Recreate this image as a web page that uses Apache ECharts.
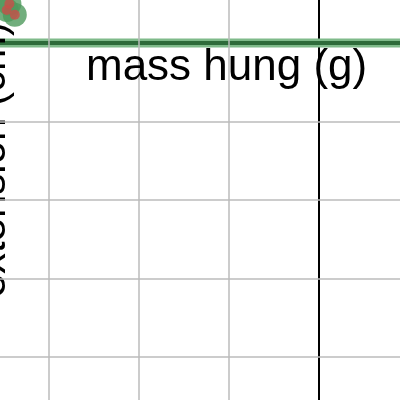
<!DOCTYPE html>
<html><head><meta charset="utf-8">
<script src="https://cdn.jsdelivr.net/npm/echarts@6/dist/echarts.min.js"></script>
<style>html,body{margin:0;padding:0;background:#fff}#c{width:400px;height:400px}</style>
</head><body><div id="c"></div>
<script>
var lineX = [-3.6, 1];
var lineY = [0, 0];
var pointsX = [-3.47, -3.38, -3.44];
var pointsY = [0.42, 0.36, 0.5];
var gridXs = [-3, -2, -1];
var gridYs = [-4, -3, -2, -1];
var xName = "mass hung (g)";
var yName = "extension (cm)";
var chart = echarts.init(document.getElementById('c'));
var lineData = lineX.map(function(x,i){return [x, lineY[i]];});
var ptData = pointsX.map(function(x,i){return [x, pointsY[i]];});
var gl = {color:'#bbbbbb', width:1.5, type:'solid'};
var ml = gridXs.map(function(v){return {xAxis:v};}).concat(gridYs.map(function(v){return {yAxis:v};}));
chart.setOption({
  animation:false,
  grid:{left:0, right:0, top:0, bottom:0, containLabel:false},
  xAxis:{type:'value', min:-319/90, max:81/90,
    axisLine:{show:false}, axisTick:{show:false}, axisLabel:{show:false}, splitLine:{show:false}},
  yAxis:{type:'value', min:(43-400)/78.5, max:43/78.5,
    axisLine:{show:false}, axisTick:{show:false}, axisLabel:{show:false}, splitLine:{show:false}},
  series:[
    {type:'line', data:[], markLine:{silent:true, symbol:'none', label:{show:false}, lineStyle:gl, data:ml}},
    {type:'line', data:[[0,-5],[0,1]], symbol:'none', lineStyle:{color:'#000', width:2}, silent:true},
    {type:'line', data:lineData, symbol:'none', lineStyle:{color:'#7fba8a', width:9}},
    {type:'line', data:lineData, symbol:'none', lineStyle:{color:'#2e6b3a', width:4}},
    {type:'scatter', data:ptData, symbolSize:24, itemStyle:{color:'#4f9a5c'}},
    {type:'scatter', data:ptData, symbolSize:10, itemStyle:{color:'#c8504a'}}
  ],
  graphic:[
    {type:'text', left:86, top:46, z:10, style:{text:xName, font:'44px "Liberation Sans", Arial', fill:'#000'}},
    {type:'text', x:14, y:22, rotation:Math.PI/2, z:5, style:{text:yName, font:'42px "Liberation Sans", Arial', fill:'#000', align:'right', verticalAlign:'bottom'}}
  ]
});
</script></body></html>
